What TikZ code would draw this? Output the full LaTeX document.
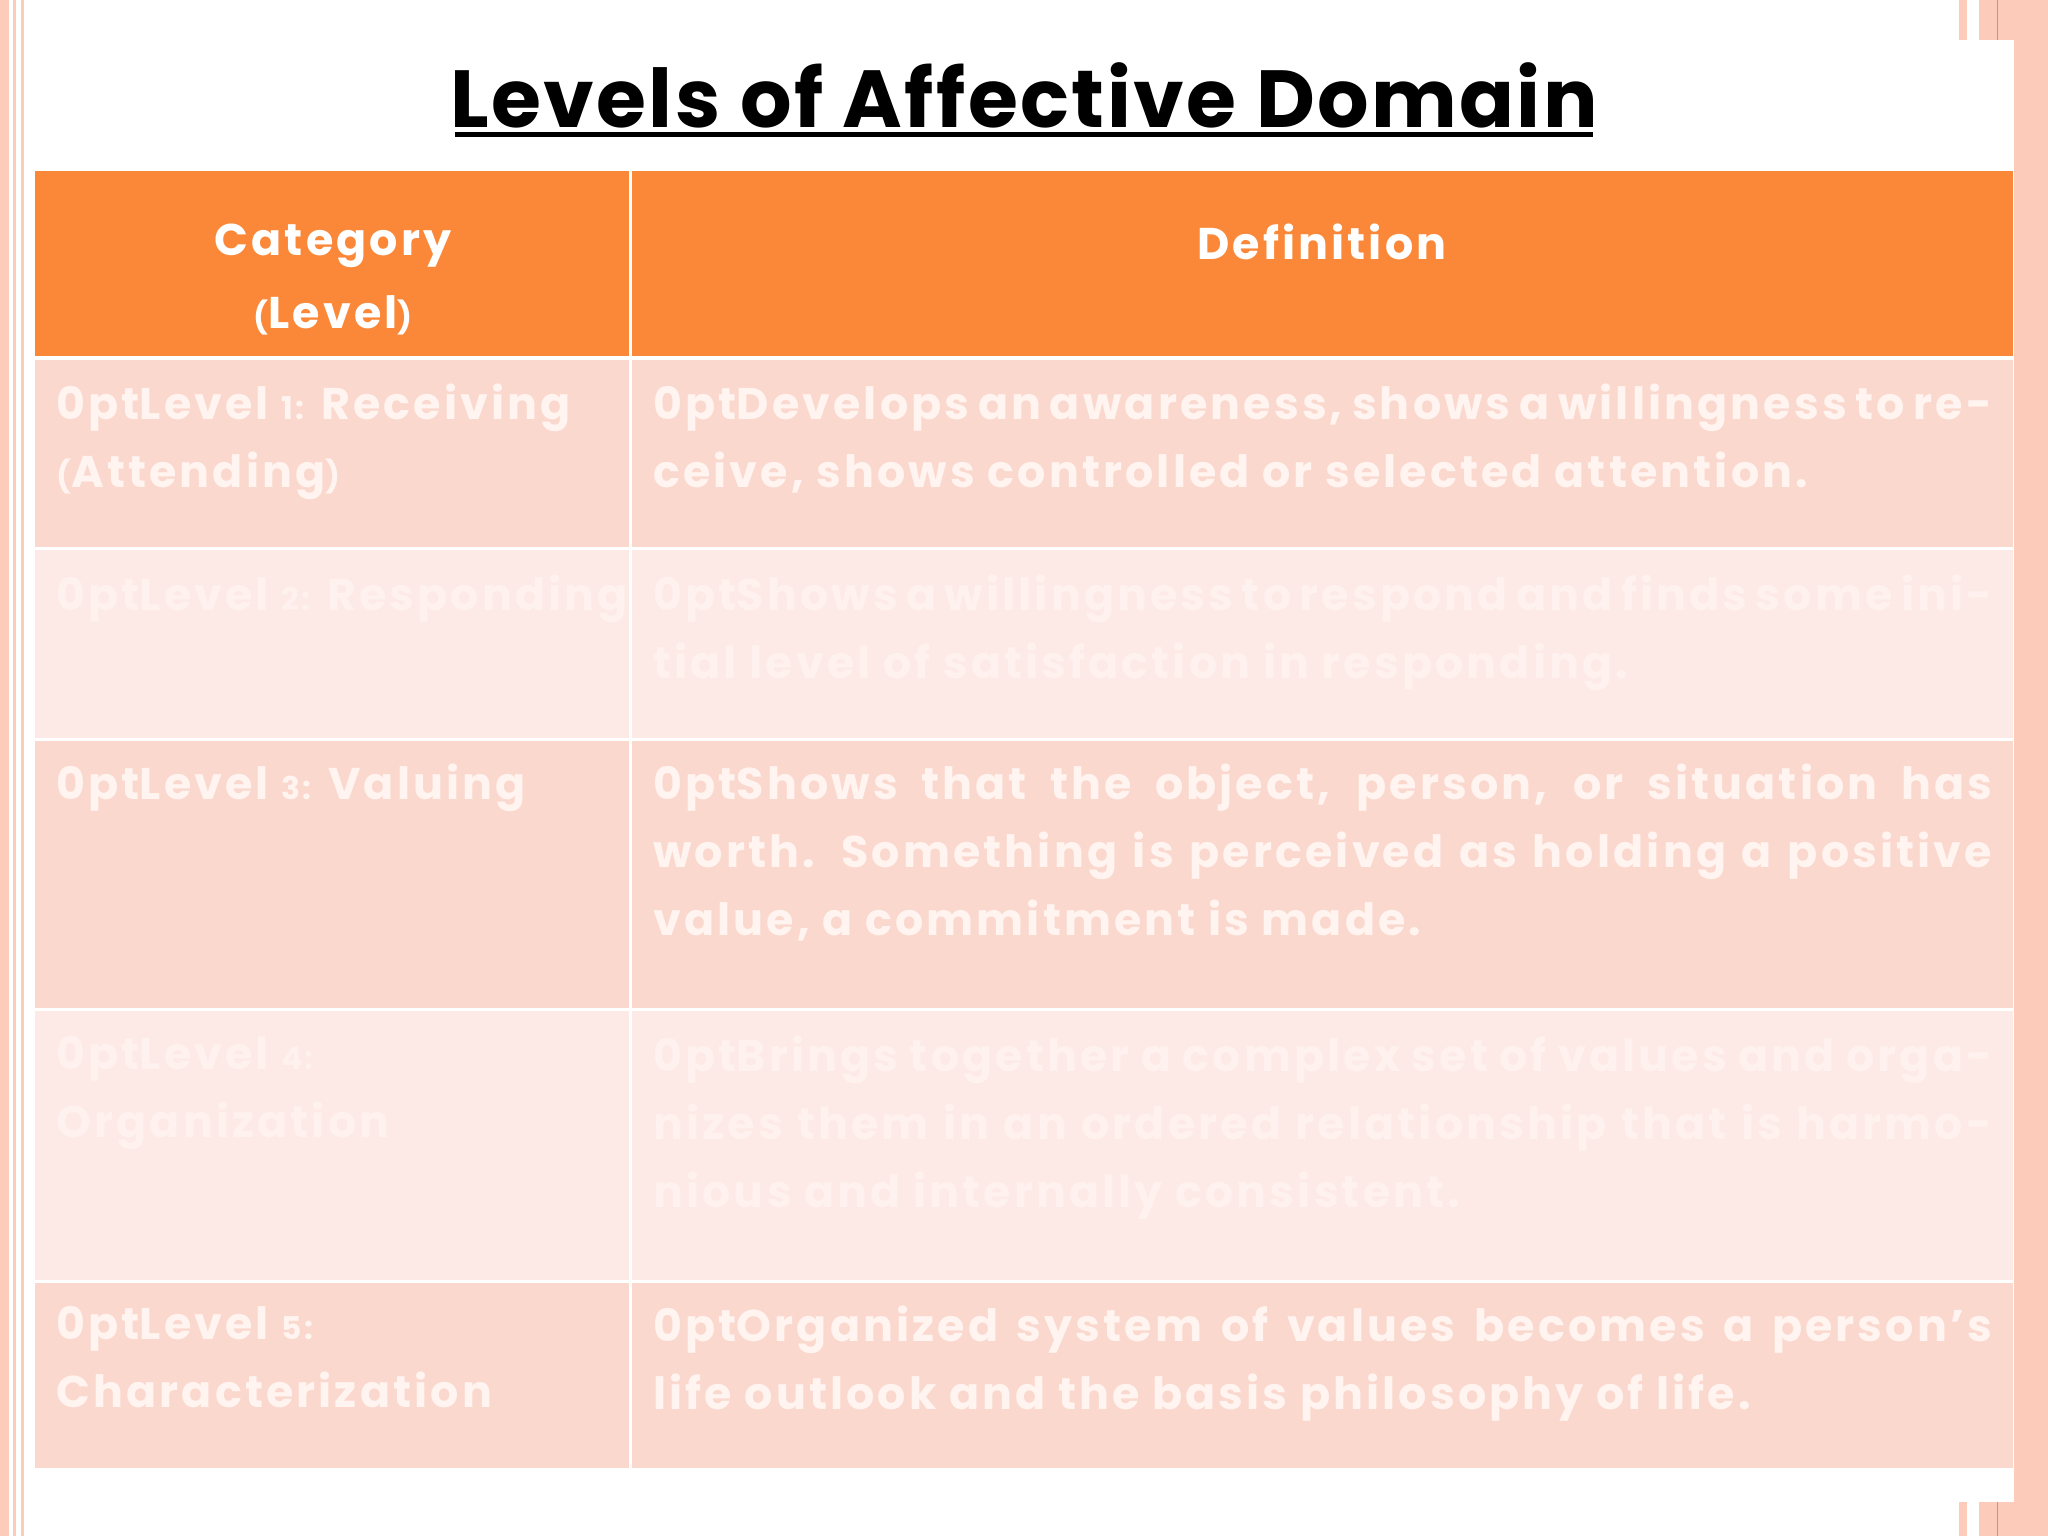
\documentclass[tikz,border=0pt]{standalone}
\usepackage{fontspec}
\setmainfont{Poppins}[LetterSpace=7]
\newfontfamily\ttl{Poppins}[LetterSpace=3]
\definecolor{hdr}{HTML}{FB8839}
\definecolor{rodd}{HTML}{FBD8CE}
\definecolor{reven}{HTML}{FDEAE6}
\definecolor{todd}{HTML}{FFF4F0}
\definecolor{teven}{HTML}{FEF1EE}
\definecolor{band}{HTML}{FCCBBA}
\begin{document}
\begin{tikzpicture}[x=1pt,y=-1pt,
  cell/.style={inner sep=0pt,anchor=north west,font=\fontsize{34}{52}\selectfont\bfseries\hyphenpenalty=10000,align=justify},
  hd/.style={inner sep=0pt,font=\fontsize{34}{56}\selectfont\bfseries,text=white,align=center}]
\newcommand{\sd}[1]{{\fontsize{24}{24}\selectfont #1}}
\useasboundingbox (0,0) rectangle (1568,1176);
\fill[white] (0,0) rectangle (1568,1176);
% left decoration
\fill[band] (0,0) rectangle (7,1176);
\fill[band] (10,0) rectangle (12,1176);
\fill[band] (16,0) rectangle (18,1176);
% right decoration
\fill[band] (1542,0) rectangle (1568,1176);
\fill[band] (1500,0) rectangle (1506,31);
\fill[band] (1515,0) rectangle (1542,31);
\fill[hdr] (1529,0) rectangle (1530,31);
\fill[band] (1500,1150) rectangle (1506,1176);
\fill[band] (1515,1150) rectangle (1542,1176);
\fill[hdr] (1529,1150) rectangle (1530,1176);
% title
\node[inner sep=0pt,font=\ttl\fontsize{62}{64}\selectfont\bfseries] (title) at (784,73) {Levels of Affective Domain};
\draw[line width=4pt] (348,103) -- (1220,103);
% table
\fill[hdr] (27,131) rectangle (1541,274);
\fill[rodd] (27,274) rectangle (1541,420);
\fill[reven] (27,420) rectangle (1541,566);
\fill[rodd] (27,566) rectangle (1541,773);
\fill[reven] (27,773) rectangle (1541,981);
\fill[rodd] (27,981) rectangle (1541,1124);
\draw[white,line width=3pt] (27,274) -- (1541,274);
\foreach \y in {420,566,773,981} \draw[white,line width=2pt] (27,\y) -- (1541,\y);
\draw[white,line width=2.5pt] (483,131) -- (483,1124);
\node[hd] (c1) at (255,214) {Category\\ \sd{(}Level\sd{)}};
\node[hd] (c2) at (1012,185) {Definition};
\node[cell,text=todd,text width=440] (l1) at (43,294) {Level \sd{1:} Receiving\\ \sd{(}Attending\sd{)}};
\node[cell,text=todd,text width=1025] (d1) at (500,294) {Develops an awareness, shows a willingness to receive, shows controlled or selected attention.};
\node[cell,text=teven,text width=440] (l2) at (43,440) {Level \sd{2:} Responding};
\node[cell,text=teven,text width=1025] (d2) at (500,440) {Shows a willingness to respond and finds some initial level of satisfaction in responding.};
\node[cell,text=todd,text width=440] (l3) at (43,585) {Level \sd{3:} Valuing};
\node[cell,text=todd,text width=1025] (d3) at (500,585) {Shows that the object, person, or situation has worth. Something is perceived as holding a positive value, a commitment is made.};
\node[cell,text=teven,text width=440] (l4) at (43,793) {Level \sd{4:}\\ Organization};
\node[cell,text=teven,text width=1025] (d4) at (500,793) {Brings together a complex set of values and organizes them in an ordered relationship that is harmonious and internally consistent.};
\node[cell,text=todd,text width=440] (l5) at (43,1000) {Level \sd{5:}\\ Characterization};
\node[cell,text=todd,text width=1025] (d5) at (500,1000) {Organized system of values becomes a person’s life outlook and the basis philosophy of life.};
\end{tikzpicture}
\end{document}
